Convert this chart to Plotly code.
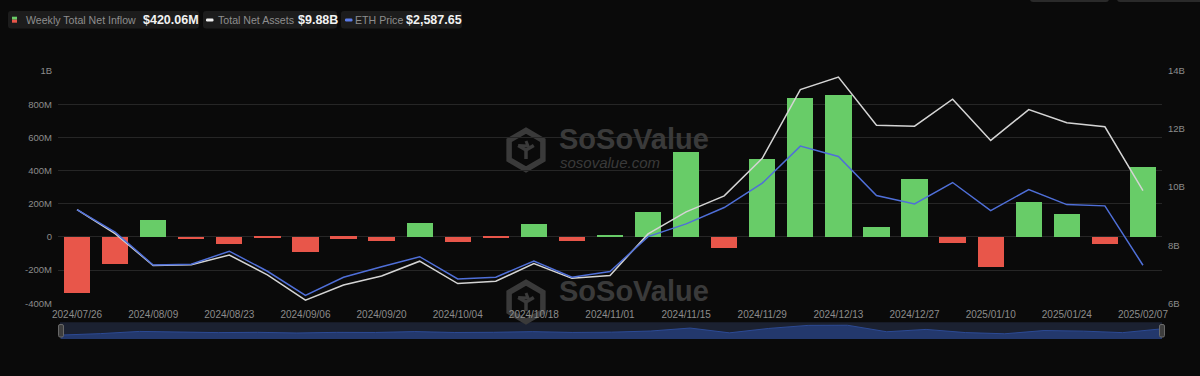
import math
import plotly.graph_objects as go

# ---------------- data ----------------
dates = ["2024/07/26", "2024/08/02", "2024/08/09", "2024/08/16", "2024/08/23", "2024/08/30",
         "2024/09/06", "2024/09/13", "2024/09/20", "2024/09/27", "2024/10/04", "2024/10/11",
         "2024/10/18", "2024/10/25", "2024/11/01", "2024/11/08", "2024/11/15", "2024/11/22",
         "2024/11/29", "2024/12/06", "2024/12/13", "2024/12/20", "2024/12/27", "2025/01/03",
         "2025/01/10", "2025/01/17", "2025/01/24", "2025/01/31", "2025/02/07"]

# weekly total net inflow, USD millions
net_inflow = [-340, -166, 104, -14, -42, -6, -88, -12, -24, 84, -28, -4, 78, -22, 12,
              153, 513, -68, 467, 836, 854, 62, 348, -36, -183, 211, 139, -44, 420.06]

# total net assets, USD billions
net_assets = [9.23, 8.40, 7.30, 7.33, 7.66, 6.98, 6.11, 6.63, 6.94, 7.45, 6.68, 6.76, 7.37,
              6.86, 6.96, 8.39, 9.15, 9.70, 10.99, 13.36, 13.79, 12.13, 12.10, 13.03, 11.61,
              12.67, 12.22, 12.08, 9.88]

# ETH price, USD
eth_price = [3279, 2998, 2591, 2600, 2762, 2513, 2214, 2438, 2570, 2694, 2417, 2438, 2641,
             2438, 2510, 2943, 3101, 3304, 3607, 4067, 3938, 3453, 3350, 3615, 3266, 3528,
             3341, 3325, 2587.65]

left_tickvals = [-400, -200, 0, 200, 400, 600, 800, 1000]
left_ticktext = ["-400M", "-200M", "0", "200M", "400M", "600M", "800M", "1B"]
right_tickvals = [6, 8, 10, 12, 14]
right_ticktext = ["6B", "8B", "10B", "12B", "14B"]
x_tickvals = dates[::2]

legend_names = ["Weekly Total Net Inflow", "Total Net Assets", "ETH Price"]
legend_values = ["$420.06M", "$9.88B", "$2,587.65"]

# ---------------- style / geometry ----------------
W, H = 1200, 376
ML, MR, MT, MB = 58, 38, 71, 37
PW = W - ML - MR
PH = H - MT - MB
BG = "#0a0a0a"
GRID = "#262626"
GREEN = "#68cc68"
RED = "#e8564a"
WHITE_LINE = "#d4d4d4"
BLUE_LINE = "#4f6fd8"
TICK = "#8c8c8c"
WM = "#3a3a3a"
FONT = "Liberation Sans"


def PX(x):
    return (x - ML) / PW


def PY(y):
    return (H - MB - y) / PH


MAIN_BOTTOM = 303.3
NAV_TOP, NAV_BOTTOM = 322.3, 339


def rrect(x0, y0, x1, y1, r):
    pts = [
        ("M", x0 + r, y0), ("L", x1 - r, y0), ("Q", x1, y0, x1, y0 + r),
        ("L", x1, y1 - r), ("Q", x1, y1, x1 - r, y1), ("L", x0 + r, y1),
        ("Q", x0, y1, x0, y1 - r), ("L", x0, y0 + r), ("Q", x0, y0, x0 + r, y0),
    ]
    s = ""
    for p in pts:
        if p[0] == "Q":
            s += f"Q{PX(p[1]):.5f},{PY(p[2]):.5f} {PX(p[3]):.5f},{PY(p[4]):.5f} "
        else:
            s += f"{p[0]}{PX(p[1]):.5f},{PY(p[2]):.5f} "
    return s + "Z"


def poly(points, close=True):
    s = ""
    for i, (x, y) in enumerate(points):
        s += ("M" if i == 0 else "L") + f"{PX(x):.5f},{PY(y):.5f} "
    return s + ("Z" if close else "")


fig = go.Figure()

# ---------- watermark texts (bottom-most subplot xy, pixel axes) ----------
for dy in (0, 152):
    fig.add_trace(go.Scatter(
        x=[559], y=[142 + dy], mode="text", text=["SoSoValue"], textposition="middle right",
        textfont=dict(family=FONT, size=29, color=WM, weight="bold"),
        cliponaxis=False, hoverinfo="skip", showlegend=False, xaxis="x", yaxis="y"))
    fig.add_trace(go.Scatter(
        x=[560], y=[164 + dy], mode="text", text=["sosovalue.com"], textposition="middle right",
        textfont=dict(family=FONT, size=15, color=WM, style="italic"),
        cliponaxis=False, hoverinfo="skip", showlegend=False, xaxis="x", yaxis="y"))

# ---------- bars ----------
bar_colors = [GREEN if v >= 0 else RED for v in net_inflow]
fig.add_trace(go.Bar(x=dates, y=net_inflow, marker=dict(color=bar_colors, line=dict(width=0)),
                     width=0.69, xaxis="x2", yaxis="y2", showlegend=False, name=legend_names[0]))

# ---------- lines ----------
fig.add_trace(go.Scatter(x=dates, y=net_assets, mode="lines", line=dict(color=WHITE_LINE, width=1.5),
                         xaxis="x2", yaxis="y3", showlegend=False, name=legend_names[1]))
fig.add_trace(go.Scatter(x=dates, y=eth_price, mode="lines", line=dict(color=BLUE_LINE, width=1.5),
                         xaxis="x2", yaxis="y4", showlegend=False, name=legend_names[2]))

# ---------- navigator ----------
NAV_LO, NAV_HI = -818, 1212
fig.add_trace(go.Scatter(x=dates, y=[NAV_LO] * len(dates), mode="lines", line=dict(width=0),
                         xaxis="x3", yaxis="y5", showlegend=False, hoverinfo="skip"))
fig.add_trace(go.Scatter(x=dates, y=net_inflow, mode="lines", fill="tonexty",
                         fillcolor="#23386c", line=dict(color="#2c4a94", width=1),
                         xaxis="x3", yaxis="y5", showlegend=False, hoverinfo="skip"))

shapes = []
# navigator background and handles
shapes.append(dict(type="rect", xref="paper", yref="paper", x0=PX(60), x1=PX(1162),
                   y0=PY(NAV_BOTTOM), y1=PY(NAV_TOP), fillcolor="#1b2131", line=dict(width=0),
                   layer="below"))
for hx in (61, 1162):
    shapes.append(dict(type="path", xref="paper", yref="paper", path=rrect(hx - 2.5, 324.5, hx + 2.5, 337, 1.5),
                       fillcolor="#3d3d3d", line=dict(color="#6a6a6a", width=1), layer="above"))

# watermark logos (hexagons)
for dy in (0, 152):
    cx, cy, r = 526, 150 + dy, 19.5
    hexpts = [(cx + r * math.cos(math.radians(a)), cy + r * math.sin(math.radians(a)))
              for a in (-90, -30, 30, 90, 150, 210)]
    shapes.append(dict(type="path", xref="paper", yref="paper", path=poly(hexpts),
                       line=dict(color=WM, width=5.5), fillcolor="rgba(0,0,0,0)", layer="below"))
    ri = 9
    inner = [(cx, cy - ri), (cx + ri * 0.866, cy - ri * 0.5), (cx + ri * 0.866, cy + ri * 0.5),
             (cx, cy + ri), (cx - ri * 0.866, cy + ri * 0.5), (cx - ri * 0.866, cy - ri * 0.5)]
    shapes.append(dict(type="path", xref="paper", yref="paper",
                       path=poly([inner[5], (cx, cy), inner[1]], close=False),
                       line=dict(color=WM, width=3.5), layer="below"))
    shapes.append(dict(type="path", xref="paper", yref="paper",
                       path=poly([(cx, cy), inner[3]], close=False),
                       line=dict(color=WM, width=3.5), layer="below"))
    shapes.append(dict(type="path", xref="paper", yref="paper",
                       path=poly([inner[0], (cx + 2, cy - 4), inner[5]], close=False),
                       line=dict(color=WM, width=3), layer="below"))

# legend pills
pills = [(8, 199), (203, 337), (341, 462)]
for x0, x1 in pills:
    shapes.append(dict(type="path", xref="paper", yref="paper", path=rrect(x0, 11, x1, 28.5, 3),
                       fillcolor="#1c1c1c", line=dict(width=0), layer="above"))
# icons
shapes.append(dict(type="rect", xref="paper", yref="paper", x0=PX(12), x1=PX(17), y0=PY(19.7), y1=PY(16.7),
                   fillcolor=GREEN, line=dict(width=0)))
shapes.append(dict(type="rect", xref="paper", yref="paper", x0=PX(12), x1=PX(17), y0=PY(22.7), y1=PY(19.7),
                   fillcolor=RED, line=dict(width=0)))
shapes.append(dict(type="path", xref="paper", yref="paper", path=rrect(206, 18.5, 213.5, 21.5, 1.2),
                   fillcolor="#f0f0f0", line=dict(width=0)))
shapes.append(dict(type="path", xref="paper", yref="paper", path=rrect(345, 18.5, 352.5, 21.5, 1.2),
                   fillcolor="#5b7be6", line=dict(width=0)))
# partially visible top-right buttons
for x0, x1 in ((1030, 1109), (1117, 1215)):
    shapes.append(dict(type="path", xref="paper", yref="paper", path=rrect(x0, -12, x1, 2, 3),
                       fillcolor="#2a2a2a", line=dict(width=0)))

annotations = []
name_x = [25, 217, 354]
val_x = [142, 296.5, 405]
for nx, vx, nm, vv in zip(name_x, val_x, legend_names, legend_values):
    annotations.append(dict(xref="paper", yref="paper", x=PX(nx), y=PY(20), xanchor="left", yanchor="middle",
                            text=nm, showarrow=False, borderpad=0,
                            font=dict(family=FONT, size=10.6, color="#8e8e8e")))
    annotations.append(dict(xref="paper", yref="paper", x=PX(vx), y=PY(20), xanchor="left", yanchor="middle",
                            text=vv, showarrow=False, borderpad=0,
                            font=dict(family=FONT, size=12.5, color="#f2f2f2", weight="bold")))

main_dom = [PY(MAIN_BOTTOM), 1]

fig.update_layout(
    width=W, height=H,
    margin=dict(l=ML, r=MR, t=MT, b=MB, pad=0),
    paper_bgcolor=BG, plot_bgcolor=BG,
    showlegend=False,
    bargap=0,
    shapes=shapes,
    annotations=annotations,
    xaxis=dict(domain=[0, 1], range=[ML, W - MR], visible=False, fixedrange=True, anchor="y"),
    yaxis=dict(domain=main_dom, range=[MAIN_BOTTOM, MT], visible=False, fixedrange=True, anchor="x"),
    xaxis2=dict(overlaying="x", type="category", categoryorder="array", categoryarray=dates,
                range=[-0.5, len(dates) - 0.5], anchor="y2", side="bottom",
                tickmode="array", tickvals=x_tickvals, ticktext=x_tickvals, ticks="",
                showgrid=False, zeroline=False, showline=False,
                tickfont=dict(family=FONT, size=10, color=TICK), ticklabelstandoff=4),
    yaxis2=dict(overlaying="y", side="left", anchor="x2", range=[-400, 1000],
                tickmode="array", tickvals=left_tickvals, ticktext=left_ticktext, ticks="",
                showgrid=True, gridcolor=GRID, gridwidth=1, zeroline=False, showline=False,
                tickfont=dict(family=FONT, size=9.5, color=TICK), ticklabelstandoff=5),
    yaxis3=dict(overlaying="y", side="right", anchor="x2", range=[6, 14],
                tickmode="array", tickvals=right_tickvals, ticktext=right_ticktext, ticks="",
                showgrid=False, zeroline=False, showline=False,
                tickfont=dict(family=FONT, size=9.5, color=TICK), ticklabelstandoff=5),
    yaxis4=dict(overlaying="y", anchor="x2", range=[2115, 5000], visible=False),
    xaxis3=dict(domain=[PX(61), PX(1162)], type="category", categoryorder="array", categoryarray=dates,
                range=[0, len(dates) - 1], anchor="y5", visible=False),
    yaxis5=dict(domain=[PY(NAV_BOTTOM), PY(NAV_TOP)], range=[NAV_LO, NAV_HI], anchor="x3", visible=False),
)

fig.write_html(
    "out.html",
    config={"displayModeBar": False},
    post_script="document.body.style.margin='0';document.body.style.padding='0';"
                "document.body.style.background='" + BG + "';",
)
